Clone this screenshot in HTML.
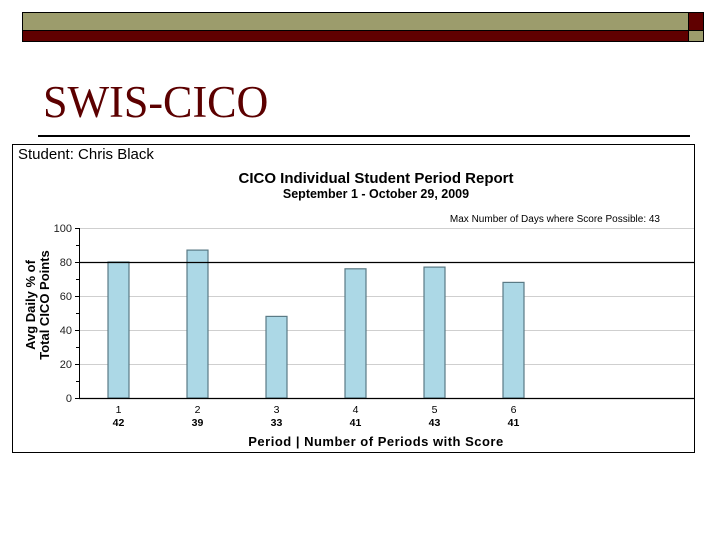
<!DOCTYPE html>
<html><head><meta charset="utf-8"><style>
body{margin:0;width:720px;height:540px;background:#fff;position:relative;overflow:hidden;font-family:"Liberation Sans",sans-serif}
.a{position:absolute}
</style></head><body>
<div class="a" style="left:22px;top:12px;width:665px;height:17px;background:#9c9c6c;border:1px solid #000"></div>
<div class="a" style="left:22px;top:30px;width:665px;height:10px;background:#600000;border:1px solid #000"></div>
<div class="a" style="left:688px;top:12px;width:14px;height:17px;background:#600000;border:1px solid #000"></div>
<div class="a" style="left:688px;top:30px;width:14px;height:10px;background:#9c9c6c;border:1px solid #000"></div>
<div class="a" style="left:43px;top:76px;font-family:'Liberation Serif',serif;font-size:45px;color:#5c0000;line-height:52px;transform:scaleX(0.98);transform-origin:left">SWIS-CICO</div>
<div class="a" style="left:38px;top:135px;width:652px;height:2px;background:#000"></div>
<svg class="a" style="left:0;top:0" width="720" height="540">
<rect x="12.5" y="144.5" width="682" height="308" fill="#fff" stroke="#000"/>
<text x="18" y="159" font-size="15" fill="#000">Student: Chris Black</text>
<text x="376" y="183" font-size="15" font-weight="bold" text-anchor="middle">CICO Individual Student Period Report</text>
<text x="376" y="198" font-size="12.5" font-weight="bold" text-anchor="middle">September 1 - October 29, 2009</text>
<text x="660" y="222" font-size="10" text-anchor="end">Max Number of Days where Score Possible: 43</text>
<g id="grid"></g><g id="bars"></g><g id="axes"></g>
<g transform="translate(47,305) rotate(-90)">
<text x="0" y="-12" font-size="13" font-weight="bold" text-anchor="middle">Avg Daily % of</text>
<text x="0" y="2" font-size="13" font-weight="bold" text-anchor="middle">Total CICO Points</text>
</g>
<text x="376" y="446" font-size="13" font-weight="bold" text-anchor="middle" letter-spacing="0.5">Period | Number of Periods with Score</text>
</svg>
<script>
const periods=["1","2","3","4","5","6"];
const counts=["42","39","33","41","43","41"];
const values=[80,87,48,76,77,68];
const yTicks=[0,20,40,60,80,100];
const goal=80;
const ns="http://www.w3.org/2000/svg";
const x0=79,x1=694,yTop=228,yBot=398,step=79,bw=21;
const y=v=>yBot-(v/100)*(yBot-yTop);
const cx=i=>118.5+i*step;
function mk(t,a,p){const e=document.createElementNS(ns,t);for(const k in a)e.setAttribute(k,a[k]);p.appendChild(e);return e;}
const G=document.getElementById('grid'),B=document.getElementById('bars'),A=document.getElementById('axes');
yTicks.forEach(v=>{
 if(v>0){const l=mk('line',{x1:x0,x2:x1,y1:y(v)+.5,y2:y(v)+.5,stroke:'#cfcfcf'},G);
 
 }
 const t=mk('text',{x:x0-7,y:y(v)+4,'font-size':11,'text-anchor':'end',fill:'#222'},A);t.textContent=v;
 
 
 mk('line',{x1:x0-4,x2:x0,y1:y(v)+.5,y2:y(v)+.5,stroke:'#000'},A);
 if(v<100)mk('line',{x1:x0-3,x2:x0,y1:y(v+10)+.5,y2:y(v+10)+.5,stroke:'#000'},A);
});
values.forEach((v,i)=>{
 const r=mk('rect',{x:cx(i)-bw/2,y:y(v),width:bw,height:yBot-y(v),fill:'#acd8e6',stroke:'#5a7a85','stroke-width':1.2},B);
 
 
 const t1=mk('text',{x:cx(i),y:413,'font-size':10.5,'text-anchor':'middle'},A);t1.textContent=periods[i];
 
 
 const t2=mk('text',{x:cx(i),y:426,'font-size':10.5,'font-weight':'bold','text-anchor':'middle'},A);t2.textContent=counts[i];
 
 
});
const gl=mk('line',{x1:x0,x2:x1,y1:y(goal)+.5,y2:y(goal)+.5,stroke:'#000','stroke-width':1.2},A);


mk('line',{x1:x0+.5,x2:x0+.5,y1:yTop,y2:yBot,stroke:'#000'},A);
const xa=mk('line',{x1:x0,x2:x1,y1:yBot+.5,y2:yBot+.5,stroke:'#000','stroke-width':1.2},A);


</script>
</body></html>
